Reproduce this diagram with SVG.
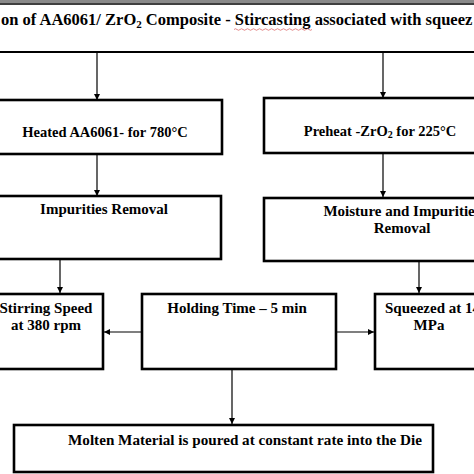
<svg xmlns="http://www.w3.org/2000/svg" width="474" height="474" viewBox="0 0 474 474">
<defs>
<style>
.box{fill:#fff;stroke:#000;stroke-width:2.6}
.con{stroke:#000;stroke-width:1.2;fill:none}
.t{font-family:"Liberation Serif","Times New Roman",serif;font-weight:bold;font-size:15px;fill:#000}
.c{text-anchor:middle}
</style>
<marker id="ah" viewBox="0 0 10 10" refX="10" refY="5" markerWidth="6" markerHeight="6" markerUnits="userSpaceOnUse" orient="auto">
<path d="M0,0 L10,5 L0,10 z" fill="#000"/>
</marker>
</defs>
<rect x="0" y="0" width="474" height="474" fill="#fff"/>
<rect x="0" y="0" width="474" height="3" fill="#8a8a8a"/>
<line x1="0" y1="4" x2="474" y2="4" stroke="#000" stroke-width="1.5"/>
<g id="title">
<text class="t" x="1" y="25" style="font-size:16.5px">on of AA6061/ ZrO<tspan font-size="11" dy="3">2</tspan><tspan dy="-3"> Composite - Stircasting associated with squeez</tspan></text>
<path d="M234,29.5 q1.5,-1.5 3,0 t3,0 t3,0 t3,0 t3,0 t3,0 t3,0 t3,0 t3,0 t3,0 t3,0 t3,0 t3,0 t3,0 t3,0 t3,0 t3,0 t3,0 t3,0 t3,0 t3,0 t3,0 t3,0 t3,0 t3,0 t3,0" fill="none" stroke="#d04040" stroke-width="0.6"/>
</g>
<g id="connectors">
<line class="con" x1="0" y1="52" x2="474" y2="52" style="stroke-width:1.8"/>
<line class="con" x1="97" y1="52" x2="97" y2="100" marker-end="url(#ah)"/>
<line class="con" x1="383" y1="52" x2="383" y2="98" marker-end="url(#ah)"/>
<line class="con" x1="97" y1="154" x2="97" y2="196" marker-end="url(#ah)"/>
<line class="con" x1="383" y1="153" x2="383" y2="197" marker-end="url(#ah)"/>
<line class="con" x1="60" y1="259" x2="60" y2="293" marker-end="url(#ah)"/>
<line class="con" x1="419" y1="261" x2="419" y2="293" marker-end="url(#ah)"/>
<line class="con" x1="142" y1="332" x2="104" y2="332" marker-end="url(#ah)"/>
<line class="con" x1="336" y1="332" x2="374" y2="332" marker-end="url(#ah)"/>
<line class="con" x1="232" y1="369" x2="232" y2="424" marker-end="url(#ah)"/>
</g>
<g id="heated">
<rect class="box" x="-10" y="100" width="232" height="54"/>
<text class="t c" x="105" y="137" style="font-size:14.5px">Heated AA6061- for 780°C</text>
</g>
<g id="preheat">
<rect class="box" x="264" y="98" width="276" height="55"/>
<text class="t c" x="380" y="136" style="font-size:14.5px">Preheat -ZrO<tspan font-size="10" dy="2">2</tspan><tspan dy="-2"> for 225°C</tspan></text>
</g>
<g id="impurities">
<rect class="box" x="-10" y="196" width="231" height="63"/>
<text class="t c" x="104" y="214">Impurities Removal</text>
</g>
<g id="moisture">
<rect class="box" x="264" y="198" width="276" height="63"/>
<text class="t c" x="402" y="216">Moisture and Impurities</text>
<text class="t c" x="402" y="233">Removal</text>
</g>
<g id="stirring">
<rect class="box" x="-10" y="294" width="113" height="75"/>
<text class="t c" x="46" y="313">Stirring Speed</text>
<text class="t c" x="46" y="330">at 380 rpm</text>
</g>
<g id="holding">
<rect class="box" x="142" y="294" width="194" height="75"/>
<text class="t c" x="237" y="313">Holding Time – 5 min</text>
</g>
<g id="squeezed">
<rect class="box" x="375" y="294" width="165" height="75"/>
<text class="t" x="385" y="313">Squeezed at 14</text>
<text class="t c" x="429" y="330">MPa</text>
</g>
<g id="molten">
<rect class="box" x="14" y="425" width="419" height="47"/>
<text class="t" x="68" y="445" textLength="354" lengthAdjust="spacingAndGlyphs">Molten Material is poured at constant rate into the Die</text>
</g>
</svg>
